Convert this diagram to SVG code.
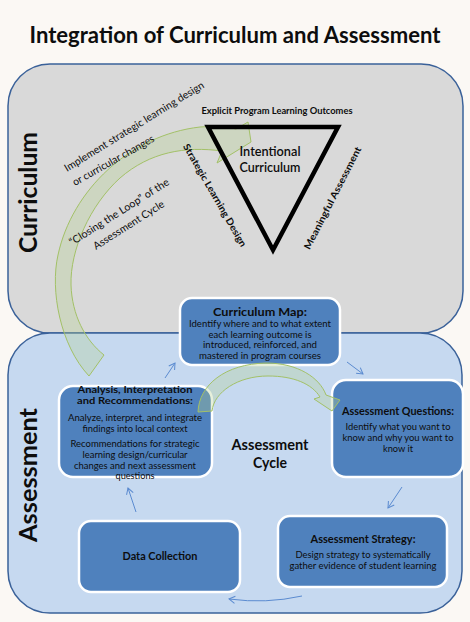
<svg xmlns="http://www.w3.org/2000/svg" width="470" height="622" viewBox="0 0 470 622">
<style>
text{font-family:Lato,"Liberation Sans",Arial,sans-serif;fill:#0d0d0d}
.b{font-weight:bold}
.c{text-anchor:middle}
.node{fill:#4f81bd;stroke:#ffffff;stroke-width:2.5}
.panel{stroke:#3a6199;stroke-width:1.5}
.green{fill:#b5cf8f;fill-opacity:0.32;stroke:#a3c167;stroke-width:1}
.conn{fill:none;stroke:#5b8bd0;stroke-width:1;marker-end:url(#ah)}
</style>
<defs>
<marker id="ah" markerUnits="userSpaceOnUse" markerWidth="9" markerHeight="9" refX="7" refY="4.5" orient="auto">
<path d="M1,1 L7,4.5 L1,8" fill="none" stroke="#5b8bd0" stroke-width="1"/>
</marker>
</defs>
<rect width="470" height="622" fill="#fbf8f4"/>
<text class="b c" x="235" y="43" font-size="22" textLength="411" lengthAdjust="spacingAndGlyphs">Integration of Curriculum and Assessment</text>

<g id="curriculum-panel">
<rect class="panel" x="8" y="64" width="455" height="269" rx="42" fill="#d9d9d9"/>
<text class="b c" transform="translate(37,192.5) rotate(-90)" font-size="25" textLength="121" lengthAdjust="spacingAndGlyphs">Curriculum</text>
</g>
<g id="assessment-panel">
<rect class="panel" x="8" y="333" width="454" height="280" rx="42" fill="#c6d9f0"/>
<text class="b c" transform="translate(37,475) rotate(-90)" font-size="25" textLength="134" lengthAdjust="spacingAndGlyphs">Assessment</text>
</g>

<g id="closing-loop-arrow">
<path class="green" d="M89,376 C60,345 50,290 58,255 C72,190 130,135 200,127 C215,126 228,127 236,129 L248,122 L251,142 L217,163 L222,151 C185,146 150,152 120,178 C90,205 70,250 71,285 C72,315 85,340 104,355 Z"/>
</g>

<g id="triangle">
<polygon points="208,127 338,127 273,250" fill="none" stroke="#000" stroke-width="4.5"/>
<text class="b c" x="277" y="114" font-size="9" textLength="151" lengthAdjust="spacingAndGlyphs">Explicit Program Learning Outcomes</text>
<text class="c" x="270" y="156" font-size="13" font-weight="600" textLength="61" lengthAdjust="spacingAndGlyphs">Intentional</text>
<text class="c" x="270" y="172" font-size="13" font-weight="600" textLength="61" lengthAdjust="spacingAndGlyphs">Curriculum</text>
<text class="b c" transform="translate(212,197) rotate(60)" font-size="9.5" textLength="117" lengthAdjust="spacingAndGlyphs">Strategic Learning Design</text>
<text class="b c" transform="translate(335.5,199.5) rotate(-62.8)" font-size="9.5" textLength="114" lengthAdjust="spacingAndGlyphs">Meaningful Assessment</text>
</g>

<g id="loop-labels">
<text transform="translate(67,172) rotate(-31.6)" font-size="10.5" textLength="162" lengthAdjust="spacingAndGlyphs">Implement strategic learning design</text>
<text transform="translate(75,186) rotate(-29.4)" font-size="10.5" textLength="92" lengthAdjust="spacingAndGlyphs">or curricular changes</text>
<text transform="translate(72,246) rotate(-32.3)" font-size="10.5" textLength="116" lengthAdjust="spacingAndGlyphs">“Closing the Loop” of the</text>
<text transform="translate(96,250) rotate(-32.5)" font-size="10.5" textLength="82" lengthAdjust="spacingAndGlyphs">Assessment Cycle</text>
</g>

<g id="curriculum-map">
<rect class="node" x="180" y="298" width="160" height="67" rx="12"/>
<text class="b c" x="260" y="315.5" font-size="11.5" textLength="94" lengthAdjust="spacingAndGlyphs">Curriculum Map:</text>
<text class="c" x="260" y="327" font-size="9.5" textLength="142" lengthAdjust="spacingAndGlyphs">Identify where and to what extent</text>
<text class="c" x="260" y="337.5" font-size="9.5" textLength="103" lengthAdjust="spacingAndGlyphs">each learning outcome is</text>
<text class="c" x="260" y="348" font-size="9.5" textLength="114" lengthAdjust="spacingAndGlyphs">introduced, reinforced, and</text>
<text class="c" x="260" y="359" font-size="9.5" textLength="122" lengthAdjust="spacingAndGlyphs">mastered in program courses</text>
</g>

<g id="analysis">
<rect class="node" x="59" y="386" width="153" height="91" rx="14"/>
<text class="b c" x="135" y="392.5" font-size="10" textLength="115" lengthAdjust="spacingAndGlyphs">Analysis, Interpretation</text>
<text class="b c" x="135" y="404" font-size="10" textLength="116" lengthAdjust="spacingAndGlyphs">and Recommendations:</text>
<text class="c" x="135" y="421" font-size="9.5" textLength="134" lengthAdjust="spacingAndGlyphs">Analyze, interpret, and integrate</text>
<text class="c" x="135" y="431.5" font-size="9.5" textLength="105" lengthAdjust="spacingAndGlyphs">findings into local context</text>
<text class="c" x="135" y="447" font-size="9.5" textLength="129" lengthAdjust="spacingAndGlyphs">Recommendations for strategic</text>
<text class="c" x="135" y="458" font-size="9.5" textLength="105" lengthAdjust="spacingAndGlyphs">learning design/curricular</text>
<text class="c" x="135" y="468.5" font-size="9.5" textLength="122" lengthAdjust="spacingAndGlyphs">changes and next assessment</text>
<text class="c" x="135" y="479" font-size="9.5" textLength="39" lengthAdjust="spacingAndGlyphs">questions</text>
</g>

<g id="assessment-questions">
<rect class="node" x="332" y="380" width="131" height="97" rx="14"/>
<text class="b c" x="398" y="415" font-size="11" textLength="112" lengthAdjust="spacingAndGlyphs">Assessment Questions:</text>
<text class="c" x="398" y="430" font-size="10" textLength="105" lengthAdjust="spacingAndGlyphs">Identify what you want to</text>
<text class="c" x="398" y="441" font-size="10" textLength="111" lengthAdjust="spacingAndGlyphs">know and why you want to</text>
<text class="c" x="398" y="452" font-size="10" textLength="30" lengthAdjust="spacingAndGlyphs">know it</text>
</g>

<g id="assessment-strategy">
<rect class="node" x="278" y="516" width="169" height="71" rx="12"/>
<text class="b c" x="363" y="543" font-size="11" textLength="105" lengthAdjust="spacingAndGlyphs">Assessment Strategy:</text>
<text class="c" x="363" y="558" font-size="9.5" textLength="135" lengthAdjust="spacingAndGlyphs">Design strategy to systematically</text>
<text class="c" x="363" y="568.5" font-size="9.5" textLength="147" lengthAdjust="spacingAndGlyphs">gather evidence of student learning</text>
</g>

<g id="data-collection">
<rect class="node" x="79" y="521" width="161" height="71" rx="12"/>
<text class="b c" x="160" y="560" font-size="11" textLength="75" lengthAdjust="spacingAndGlyphs">Data Collection</text>
</g>

<g id="cycle-label">
<text class="b c" x="270" y="450" font-size="16" textLength="77" lengthAdjust="spacingAndGlyphs">Assessment</text>
<text class="b c" x="270" y="468" font-size="16" textLength="34" lengthAdjust="spacingAndGlyphs">Cycle</text>
</g>

<g id="connectors">
<path class="green" d="M198,412 C199,385 225,364 266,363 C298,363 320,378 326,395 L340,400 L332,411 L314,399 L320,397 C312,384 294,376 268,376 C238,376 214,392 212,411 Z"/>
<path class="conn" d="M165,378 L175,363"/>
<path class="conn" d="M347,362 L363,374"/>
<path class="conn" d="M402,487 L388,508"/>
<path class="conn" d="M302,596 Q266,604 229,599"/>
<path class="conn" d="M136,512 L128,488"/>
</g>
</svg>
